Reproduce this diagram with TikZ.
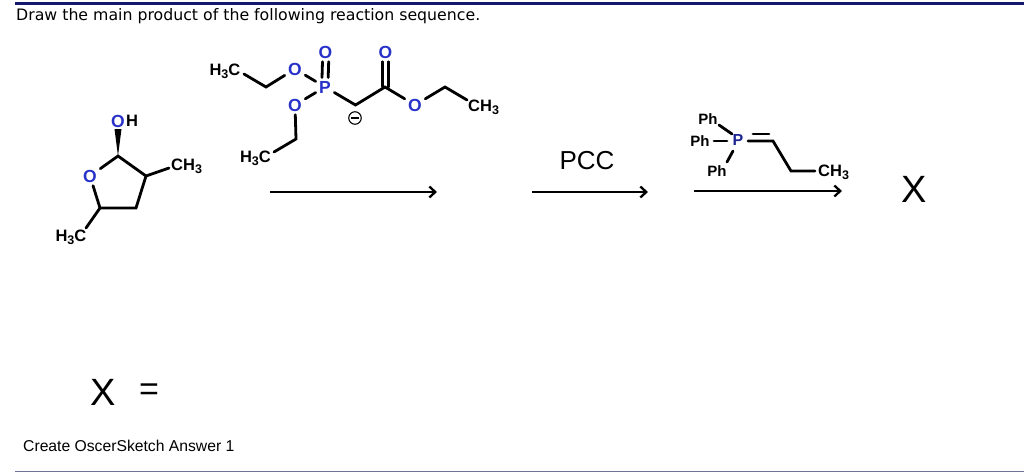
\documentclass[tikz,border=0pt]{standalone}
\usepackage{fontspec}
\setmainfont{Liberation Sans}
\newfontfamily\verd{DejaVu Sans}
\usetikzlibrary{arrows.meta}
\definecolor{hetO}{RGB}{40,50,200}
\definecolor{topline}{RGB}{20,25,110}
\definecolor{botline}{RGB}{110,115,150}
\tikzset{x=1pt,y=-1pt,
 bond/.style={line width=2.8pt,line cap=round},
 lab/.style={font=\bfseries\fontsize{16.5}{17}\selectfont,inner sep=0pt,text=black},
 phl/.style={font=\bfseries\fontsize{15}{16}\selectfont,inner sep=0pt,text=black},
 het/.style={inner sep=0pt,outer sep=3.5pt,text=hetO,font=\bfseries\fontsize{17.5}{18}\selectfont},
 pt/.style={inner sep=0pt,minimum size=0pt},
 rxn/.style={line width=2.5pt,-{Straight Barb[length=6pt,width=11pt,line width=2.3pt]}},
 big/.style={inner sep=0pt,font=\fontsize{38}{38}\selectfont}}
\newcommand{\subs}[1]{\raisebox{-0.35ex}{\fontsize{12.5}{13}\selectfont #1}}
\begin{document}
\begin{tikzpicture}
\useasboundingbox (0,0) rectangle (1024,472);
\coordinate (tl) at (15,3.5); \coordinate (tr) at (1024,3.5);
\draw[topline,line width=2.2pt] (tl) -- (tr);
\coordinate (bl) at (15,471.5); \coordinate (br) at (1024,471.5);
\draw[botline,line width=1pt] (bl) -- (br);
\node[anchor=west,inner sep=0pt,font=\verd\fontsize{15.75}{17}\selectfont] (title) at (16,16.5) {Draw the main product of the following reaction sequence.};
% furanose
\node[het] (oh) at (118,121) {O};
\node[lab] (ohh) at (132,121) {H};
\node[het] (o1) at (90,176) {O};
\node[pt] (c1) at (118,156) {};
\node[pt] (c2) at (146,176) {};
\node[pt] (c3) at (136,208) {};
\node[pt] (c4) at (100,208) {};
\node[lab,anchor=west] (me1) at (171,166) {CH\subs{3}};
\node[lab,anchor=east] (me2) at (86.5,237) {H\subs{3}C};
\coordinate (me1b) at (169,168);
\coordinate (me2b) at (86,228);
\coordinate (wl) at (114.5,129); \coordinate (wr) at (121.5,129);
\fill (c1.center) -- (wl) -- (wr) -- cycle;
\draw[bond] (o1) -- (c1.center) -- (c2.center) -- (c3.center) -- (c4.center) -- (o1);
\draw[bond] (c2.center) -- (me1b);
\draw[bond] (c4.center) -- (me2b);
% phosphonate
\node[het] (p) at (325,87) {P};
\node[het] (po) at (325.5,52) {O};
\node[het] (ou) at (295,69) {O};
\node[het] (ol) at (295,105) {O};
\node[het] (oe) at (415,105) {O};
\node[het] (oc) at (385.5,52) {O};
\node[pt] (ca) at (355.5,105) {};
\node[pt] (cc) at (385,87) {};
\node[pt] (eu) at (266,87) {};
\node[pt] (el) at (296,139) {};
\node[pt] (er) at (445,87) {};
\node[lab,anchor=east] (m1) at (240.5,71) {H\subs{3}C};
\node[lab,anchor=east] (m2) at (271,158) {H\subs{3}C};
\node[lab,anchor=west] (m3) at (468,107) {CH\subs{3}};
\coordinate (m1b) at (244,74); \coordinate (m2b) at (274,152); \coordinate (m3b) at (467,100);
\draw[bond] (p) -- (ou); \draw[bond] (p) -- (ol);
\draw[bond] (p) -- (ca.center) -- (cc.center) -- (oe);
\draw[bond] (oe) -- (er.center) -- (m3b);
\draw[bond] (ou) -- (eu.center) -- (m1b);
\draw[bond] (ol) -- (el.center) -- (m2b);
\draw[bond] ([xshift=-3pt]p.north) -- ([xshift=-3pt]po.south);
\draw[bond] ([xshift=3.2pt]p.north) -- ([xshift=3.2pt]po.south);
\coordinate (cu1) at (382.4,87); \coordinate (cu2) at (388.2,87);
\draw[bond] (cu1) -- (cu1 |- oc.south);
\draw[bond] (cu2) -- (cu2 |- oc.south);
\node[circle,draw,line width=1.1pt,minimum size=12.5pt,inner sep=0pt] (neg) at (355,118) {};
\coordinate (n1) at (351,118); \coordinate (n2) at (359,118);
\draw[line width=1.8pt] (n1) -- (n2);
% arrows
\coordinate (a1s) at (270,192); \coordinate (a1e) at (437,192);
\draw[rxn] (a1s) -- (a1e);
\coordinate (a2s) at (532,192); \coordinate (a2e) at (648,192);
\draw[rxn] (a2s) -- (a2e);
\coordinate (a3s) at (694,191); \coordinate (a3e) at (842,191);
\draw[rxn] (a3s) -- (a3e);
\node[inner sep=0pt,font=\fontsize{26}{28}\selectfont] (pcc) at (587,161) {PCC};
% ylide
\node[het,text=topline!60!hetO,font=\bfseries\fontsize{16}{16}\selectfont] (py) at (738,140) {P};
\node[phl] (ph1) at (708,119) {Ph};
\node[phl] (ph2) at (700,141) {Ph};
\node[phl] (ph3) at (717,171) {Ph};
\node[pt] (yc) at (773,141) {};
\node[pt] (yd) at (791,171) {};
\node[lab,anchor=west] (ym) at (818,172) {CH\subs{3}};
\coordinate (b1a) at (719,125); \coordinate (b1b) at (732,134);
\coordinate (b2a) at (714,141); \coordinate (b2b) at (727,141);
\coordinate (b3a) at (727,162); \coordinate (b3b) at (733,151);
\coordinate (b4a) at (748,141); \coordinate (b4b) at (815,171);
\draw[bond] (b1a) -- (b1b);
\draw[bond] (b2a) -- (b2b);
\draw[bond] (b3a) -- (b3b);
\draw[bond] (b4a) -- (yc.center) -- (yd.center) -- (b4b);
\coordinate (d1) at (753,134); \coordinate (d2) at (769,134);
\draw[bond] (d1) -- (d2);
% X
\node[big] (x1) at (914,189) {X};
\node[big] (x2) at (103,392) {X};
\node[inner sep=0pt,font=\fontsize{34}{34}\selectfont] (eq) at (149,392) {=};
\node[anchor=west,inner sep=0pt,font=\fontsize{15.7}{18}\selectfont] (ans) at (23,446) {Create OscerSketch Answer 1};
\end{tikzpicture}
\end{document}
